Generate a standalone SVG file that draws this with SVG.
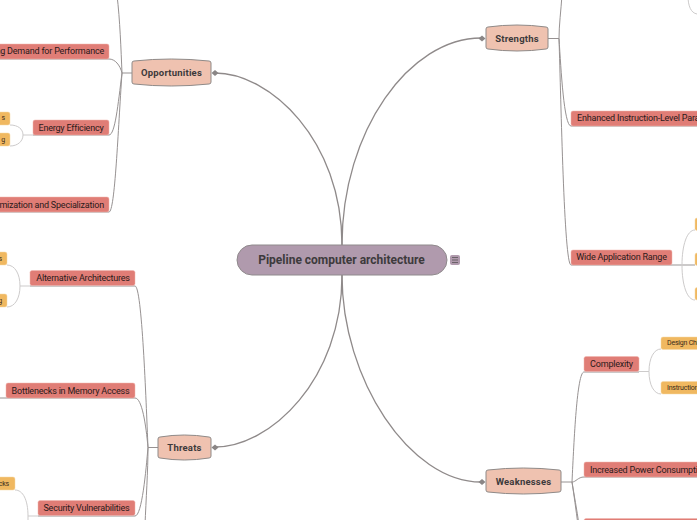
<svg xmlns="http://www.w3.org/2000/svg" width="697" height="520" viewBox="0 0 697 520">
<style>
text{font-family:Roboto,"Liberation Sans",sans-serif;dominant-baseline:central}
.main{fill:#efc2b0;stroke:#8f8a88;stroke-width:1}
.mt{font-size:9.500px;font-weight:700;fill:#3d3a3c;text-anchor:middle;letter-spacing:.2px}
.red{fill:#e07d76;stroke:#f0b5ae;stroke-width:.5}
.rt{font-size:9px;fill:#2a1a1a;letter-spacing:-.2px}
.yel{fill:#f0b860;stroke:#f6d9a6;stroke-width:.5}
.yt{font-size:7px;fill:#3a2a1a;letter-spacing:-.2px}
.c1{fill:none;stroke:#8f8a8a;stroke-width:1.300}
.c2{fill:none;stroke:#979292;stroke-width:1}
.c3{fill:none;stroke:#cdcbcb;stroke-width:1}
.dia{fill:#8a8686}
</style>
<g id="connectors">
<path class="c1" d="M342 245C342 140 270 73 215 73"/>
<path class="c1" d="M342 245C342 130 410 38 481 38"/>
<path class="c1" d="M342 275C342 380 270 447 215 447"/>
<path class="c1" d="M342 275C342 380 410 482 481 482"/>
<path class="dia" d="M215 70l3.500 3-3.500 3-3.500-3z"/>
<path class="dia" d="M215 444.500l3.500 3-3.500 3-3.500-3z"/>
<path class="dia" d="M482 35.500l3.500 3-3.500 3-3.500-3z"/>
<path class="dia" d="M482 479l3.500 3-3.500 3-3.500-3z"/>
<path class="c2" d="M132 73H122"/>
<path class="c2" d="M122 73C121 50 120 20 117 -5"/>
<path class="c2" d="M122 73C120 65 115 59 109 59H0"/>
<path class="c2" d="M122 73C118 105 115 135 109 135H33"/>
<path class="c2" d="M122 73C118 130 115 212 109 212H0"/>
<path class="c2" d="M158 447.500H148"/>
<path class="c2" d="M148 447.500C146 400 142 286 135 286H30"/>
<path class="c2" d="M148 447.500C146 425 142 398 135 398H0"/>
<path class="c2" d="M148 447.500C146 470 142 516 135 516H38"/>
<path class="c2" d="M148 447.500C148 470 146 500 145 525"/>
<path class="c2" d="M548 38.500H559"/>
<path class="c2" d="M559 38.500C559 25 561 10 562 -5"/>
<path class="c2" d="M559 38.500C561 70 564 126 571 126H697"/>
<path class="c2" d="M559 38.500C561 100 564 265 571 265H695"/>
<path class="c2" d="M561 482H572"/>
<path class="c2" d="M572 482C574 440 577 372 584 372H639"/>
<path class="c2" d="M572 482C576 482 578 477 584 477H697"/>
<path class="c2" d="M572 482C574 495 577 510 579 525"/>
<path class="c2" d="M572 482C574 495 576 510 578 525"/>
<path class="c3" d="M33 135H23M10 125C18 125 23 129 23 135C23 141 18 146 10 146"/>
<path class="c3" d="M30 286H20M7 265C15 265 20 274 20 286C20 298 15 307 7 307"/>
<path class="c3" d="M38 516H28M15 490C23 490 28 500 28 516V525"/>
<path class="c3" d="M672 265H695M695 230C687 230 682 245 682 265C682 285 687 300 695 300"/>
<path class="c3" d="M697 14C691 13 688 6 688 -4"/>
<path class="c3" d="M639 371.500H649M661 349C654 349 649 358 649 371.500C649 385 654 394 661 394"/>
</g>
<g id="central">
<rect x="237" y="245" width="210" height="30" rx="15" fill="#b09aad" stroke="#8f8a8c"/>
<text x="341.500" y="259.500" font-size="12" font-weight="700" fill="#3d3a3c" text-anchor="middle">Pipeline computer architecture</text>
<rect x="450" y="255" width="10" height="10" rx="2" fill="#b09aad"/>
<path d="M452 257.500h6M452 260h6M452 262.500h6" stroke="#4d4a4c" stroke-width=".7"/>
</g>
<g id="opportunities">
<path class="main" d="M132 63Q132 61 134 61Q171 57 209 61Q211 61 211 63V82Q211 84 209 84Q171 88 134 84Q132 84 132 82Z"/>
<text class="mt" x="171.500" y="72.500">Opportunities</text>
</g>
<g id="threats">
<path class="main" d="M158 439Q158 437 160 437Q184 433 209 437Q211 437 211 439V456Q211 458 209 458Q184 462 160 458Q158 458 158 456Z"/>
<text class="mt" x="184.500" y="447.500">Threats</text>
</g>
<g id="strengths">
<path class="main" d="M486 29Q486 27 488 27Q517 23 546 27Q548 27 548 29V47Q548 49 546 49Q517 53 488 49Q486 49 486 47Z"/>
<text class="mt" x="517" y="38.500">Strengths</text>
</g>
<g id="weaknesses">
<path class="main" d="M486 472Q486 470 488 470Q523 466 559 470Q561 470 561 472V490Q561 492 559 492Q523 496 488 492Q486 492 486 490Z"/>
<text class="mt" x="523.500" y="481.500">Weaknesses</text>
</g>
<g id="t-demand"><rect class="red" x="-60" y="44" width="169" height="15" rx="2"/><text class="rt" x="104" y="50.500" text-anchor="end">Increasing Demand for Performance</text></g>
<g id="t-energy"><rect class="red" x="33" y="120" width="76" height="15" rx="2"/><text class="rt" x="71" y="127.500" text-anchor="middle">Energy Efficiency</text></g>
<g id="t-custom"><rect class="red" x="-60" y="197" width="169" height="15" rx="2"/><text class="rt" x="104" y="204.500" text-anchor="end">Customization and Specialization</text></g>
<g id="y-e1"><rect class="yel" x="-20" y="112" width="30" height="13" rx="2"/><text class="yt" x="5" y="118" text-anchor="end">s</text></g>
<g id="y-e2"><rect class="yel" x="-20" y="133" width="30" height="13" rx="2"/><text class="yt" x="5" y="139.500" text-anchor="end">g</text></g>
<g id="t-alt"><rect class="red" x="30" y="270.500" width="105" height="15" rx="2"/><text class="rt" x="83" y="277.500" text-anchor="middle">Alternative Architectures</text></g>
<g id="t-bottle"><rect class="red" x="6" y="383" width="129" height="15" rx="2"/><text class="rt" x="70.500" y="390.500" text-anchor="middle">Bottlenecks in Memory Access</text></g>
<g id="t-sec"><rect class="red" x="38" y="500.500" width="97" height="15" rx="2"/><text class="rt" x="86.500" y="507.500" text-anchor="middle">Security Vulnerabilities</text></g>
<g id="y-a1"><rect class="yel" x="-20" y="252" width="27" height="13" rx="2"/><text class="yt" x="2" y="258.500" text-anchor="end">s</text></g>
<g id="y-a2"><rect class="yel" x="-20" y="294" width="27" height="13" rx="2"/><text class="yt" x="2" y="300.500" text-anchor="end">g</text></g>
<g id="y-s1"><rect class="yel" x="-20" y="477" width="35" height="13" rx="2"/><text class="yt" x="9" y="483.500" text-anchor="end">cks</text></g>
<g id="t-enh"><rect class="red" x="571" y="111" width="150" height="15" rx="2"/><text class="rt" x="577" y="118">Enhanced Instruction-Level Parallelism</text></g>
<g id="t-wide"><rect class="red" x="571" y="250" width="101" height="15" rx="2"/><text class="rt" x="621.500" y="257" text-anchor="middle">Wide Application Range</text></g>
<g id="y-w1"><rect class="yel" x="695" y="218" width="20" height="12.500" rx="2"/></g>
<g id="y-w2"><rect class="yel" x="695" y="253" width="20" height="12.500" rx="2"/></g>
<g id="y-w3"><rect class="yel" x="695" y="287.500" width="20" height="12.500" rx="2"/></g>
<g id="t-complex"><rect class="red" x="584" y="356.500" width="55" height="15" rx="2"/><text class="rt" x="611.500" y="364" text-anchor="middle">Complexity</text></g>
<g id="t-power"><rect class="red" x="584" y="462" width="130" height="15" rx="2"/><text class="rt" x="590" y="469.500">Increased Power Consumption</text></g>
<g id="t-third"><rect class="red" x="584" y="518.500" width="130" height="15" rx="2"/></g>
<g id="y-c1"><rect class="yel" x="661" y="337" width="50" height="12.500" rx="2"/><text class="yt" x="667" y="343">Design Challenges</text></g>
<g id="y-c2"><rect class="yel" x="661" y="381.500" width="50" height="12.500" rx="2"/><text class="yt" x="667" y="387.500">Instruction</text></g>
</svg>
